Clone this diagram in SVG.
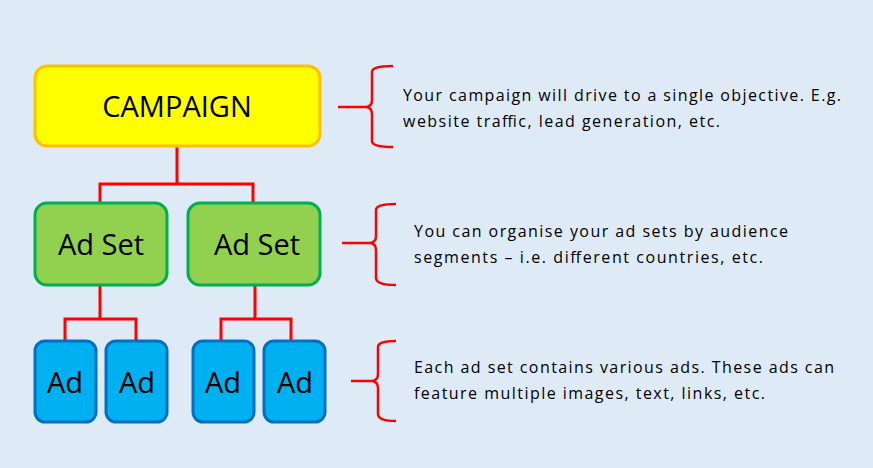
<svg xmlns="http://www.w3.org/2000/svg" width="873" height="468" viewBox="0 0 873 468">
<style>
.lbl{font-family:"Open Sans","Liberation Sans",sans-serif;fill:#000;text-anchor:middle}
.t{font-family:"Open Sans","Liberation Sans",sans-serif;font-size:16px;fill:#000}
.c{fill:none;stroke:#ff0000;stroke-width:3}
.b{fill:none;stroke:#ff0000;stroke-width:2.5}
</style>
<rect width="873" height="468" fill="#deebf7"/>
<g id="connectors">
<path class="c" d="M177 146V184M100 203V184H253V203M100 285V319M65 340V319H136V340M255 285V319M221 340V319H291V340"/>
</g>
<g id="campaign"><rect x="35" y="66" width="285" height="80" rx="12" fill="#ffff00" stroke="#ffc000" stroke-width="3"/><text class="lbl" x="177" y="117" font-size="29">CAMPAIGN</text></g>
<g id="adset1"><rect x="35" y="203" width="132" height="82" rx="12" fill="#92d050" stroke="#00b050" stroke-width="3"/><text class="lbl" x="101" y="255" font-size="29">Ad Set</text></g>
<g id="adset2"><rect x="188" y="203" width="132" height="82" rx="12" fill="#92d050" stroke="#00b050" stroke-width="3"/><text class="lbl" x="257" y="255" font-size="29">Ad Set</text></g>
<g id="ad1"><rect x="35" y="341" width="61" height="81" rx="10" fill="#00b0f0" stroke="#0070c0" stroke-width="3"/><text class="lbl" x="65" y="393" font-size="29">Ad</text></g>
<g id="ad2"><rect x="106" y="341" width="61" height="81" rx="10" fill="#00b0f0" stroke="#0070c0" stroke-width="3"/><text class="lbl" x="137" y="393" font-size="29">Ad</text></g>
<g id="ad3"><rect x="193" y="341" width="61" height="81" rx="10" fill="#00b0f0" stroke="#0070c0" stroke-width="3"/><text class="lbl" x="223" y="393" font-size="29">Ad</text></g>
<g id="ad4"><rect x="264" y="341" width="61" height="81" rx="10" fill="#00b0f0" stroke="#0070c0" stroke-width="3"/><text class="lbl" x="295" y="393" font-size="29">Ad</text></g>
<g id="brace1"><path class="b" d="M393 66Q372 66 372 72V100Q372 107 365 107H338M365 107Q372 107 372 114V141Q372 147 393 147"/>
<text class="t" x="403" y="101" textLength="438">Your campaign will drive to a single objective. E.g.</text>
<text class="t" x="403" y="127" textLength="317">website traffic, lead generation, etc.</text></g>
<g id="brace2"><path class="b" d="M396 204Q376 204 376 210V236Q376 243 369 243H342M369 243Q376 243 376 250V278Q376 285 396 285"/>
<text class="t" x="414" y="237" textLength="374">You can organise your ad sets by audience</text>
<text class="t" x="414" y="263" textLength="349">segments – i.e. different countries, etc.</text></g>
<g id="brace3"><path class="b" d="M396 341Q378 341 378 347V374Q378 381 371 381H351M371 381Q378 381 378 388V414Q378 421 396 421"/>
<text class="t" x="414" y="373" textLength="420">Each ad set contains various ads. These ads can</text>
<text class="t" x="414" y="399" textLength="351">feature multiple images, text, links, etc.</text></g>
</svg>
